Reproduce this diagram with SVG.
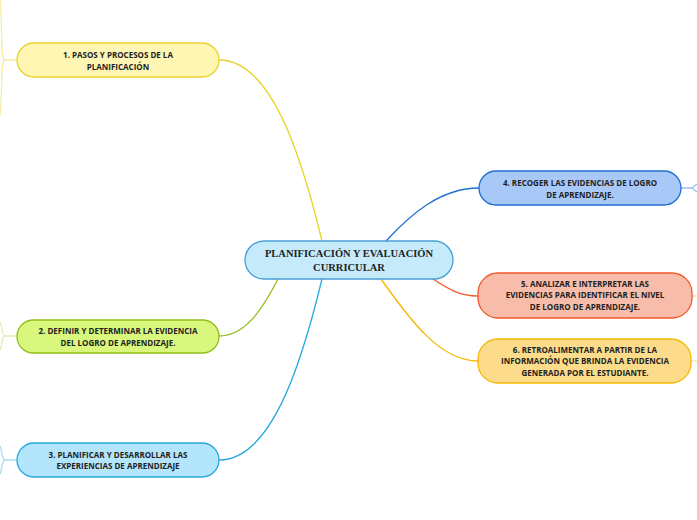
<svg xmlns="http://www.w3.org/2000/svg" width="697" height="520" viewBox="0 0 697 520">
<style>
.n{stroke-width:1.3}
.t{font-family:"Open Sans",sans-serif;font-weight:bold;font-size:8px;fill:#222;text-anchor:middle}
.c{font-family:"Liberation Serif",serif;font-weight:bold;font-size:10.5px;fill:#222;text-anchor:middle}
#conn path{fill:none;stroke-width:1.3}
</style>
<rect width="697" height="520" fill="#fff"/>
<g id="conn">
<path d="M219,60 C270,60 300,150 322,241" stroke="#e8d42a"/>
<path d="M219,336 C245,336 262,310 278,279" stroke="#8fbf1a"/>
<path d="M219,460 C270,460 300,370 322,279" stroke="#29a8e0"/>
<path d="M386,241 C410,215 440,188 479,188" stroke="#1e6fd0"/>
<path d="M433,279 C450,290 460,296 478,296" stroke="#f0582a"/>
<path d="M381,279 C410,320 440,361 478,361" stroke="#f5b800"/>
<path d="M17,60 H5 C0,60 3,30 0,0 M5,60 C0,60 3,90 0,115" stroke="#f5eda0"/>
<path d="M17,336 H5 C2,336 2,325 0,322 M5,336 C2,336 2,346 0,350" stroke="#dcefb0"/>
<path d="M17,460 H5 C2,460 2,450 0,446 M5,460 C2,460 2,470 0,474" stroke="#a8dcf5"/>
<path d="M681,188 H692 L697,184 M692,188 L697,192" stroke="#9cbcf0"/>
<path d="M692,296 H697" stroke="#f8cbbd"/>
<path d="M691,361 H697" stroke="#fbe4a8"/>
</g>
<g id="center"><rect class="n" x="245" y="241" width="208" height="38" rx="19" fill="#c5ebfb" stroke="#4a9fd8"/>
<text class="c" x="349" y="257">PLANIFICACIÓN Y EVALUACIÓN</text><text class="c" x="349" y="271">CURRICULAR</text></g>
<g id="n1"><rect class="n" x="17" y="43" width="202" height="34" rx="17" fill="#fff6b3" stroke="#e8d42a"/>
<text class="t" x="118" y="58">1. PASOS Y PROCESOS DE LA</text><text class="t" x="118" y="70">PLANIFICACIÓN</text></g>
<g id="n2"><rect class="n" x="17" y="320" width="202" height="33" rx="16.5" fill="#d9f77c" stroke="#8fbf1a"/>
<text class="t" x="118" y="334">2. DEFINIR Y DETERMINAR LA EVIDENCIA</text><text class="t" x="118" y="346">DEL LOGRO DE APRENDIZAJE.</text></g>
<g id="n3"><rect class="n" x="17" y="443" width="202" height="34" rx="17" fill="#b3e5fc" stroke="#29a8e0"/>
<text class="t" x="118" y="458">3. PLANIFICAR Y DESARROLLAR LAS</text><text class="t" x="118" y="469">EXPERIENCIAS DE APRENDIZAJE</text></g>
<g id="n4"><rect class="n" x="479" y="171" width="202" height="34" rx="17" fill="#a8c8f8" stroke="#1e6fd0"/>
<text class="t" x="580" y="186">4. RECOGER LAS EVIDENCIAS DE LOGRO</text><text class="t" x="580" y="198">DE APRENDIZAJE.</text></g>
<g id="n5"><rect class="n" x="478" y="273" width="214" height="45" rx="20" fill="#f8bcaa" stroke="#f0582a"/>
<text class="t" x="585" y="287">5. ANALIZAR E INTERPRETAR LAS</text><text class="t" x="585" y="298">EVIDENCIAS PARA IDENTIFICAR EL NIVEL</text><text class="t" x="585" y="310">DE LOGRO DE APRENDIZAJE.</text></g>
<g id="n6"><rect class="n" x="478" y="339" width="213" height="44" rx="20" fill="#fcdb8a" stroke="#f5b800"/>
<text class="t" x="585" y="353">6. RETROALIMENTAR A PARTIR DE LA</text><text class="t" x="585" y="364">INFORMACIÓN QUE BRINDA LA EVIDENCIA</text><text class="t" x="585" y="376">GENERADA POR EL ESTUDIANTE.</text></g>
</svg>
